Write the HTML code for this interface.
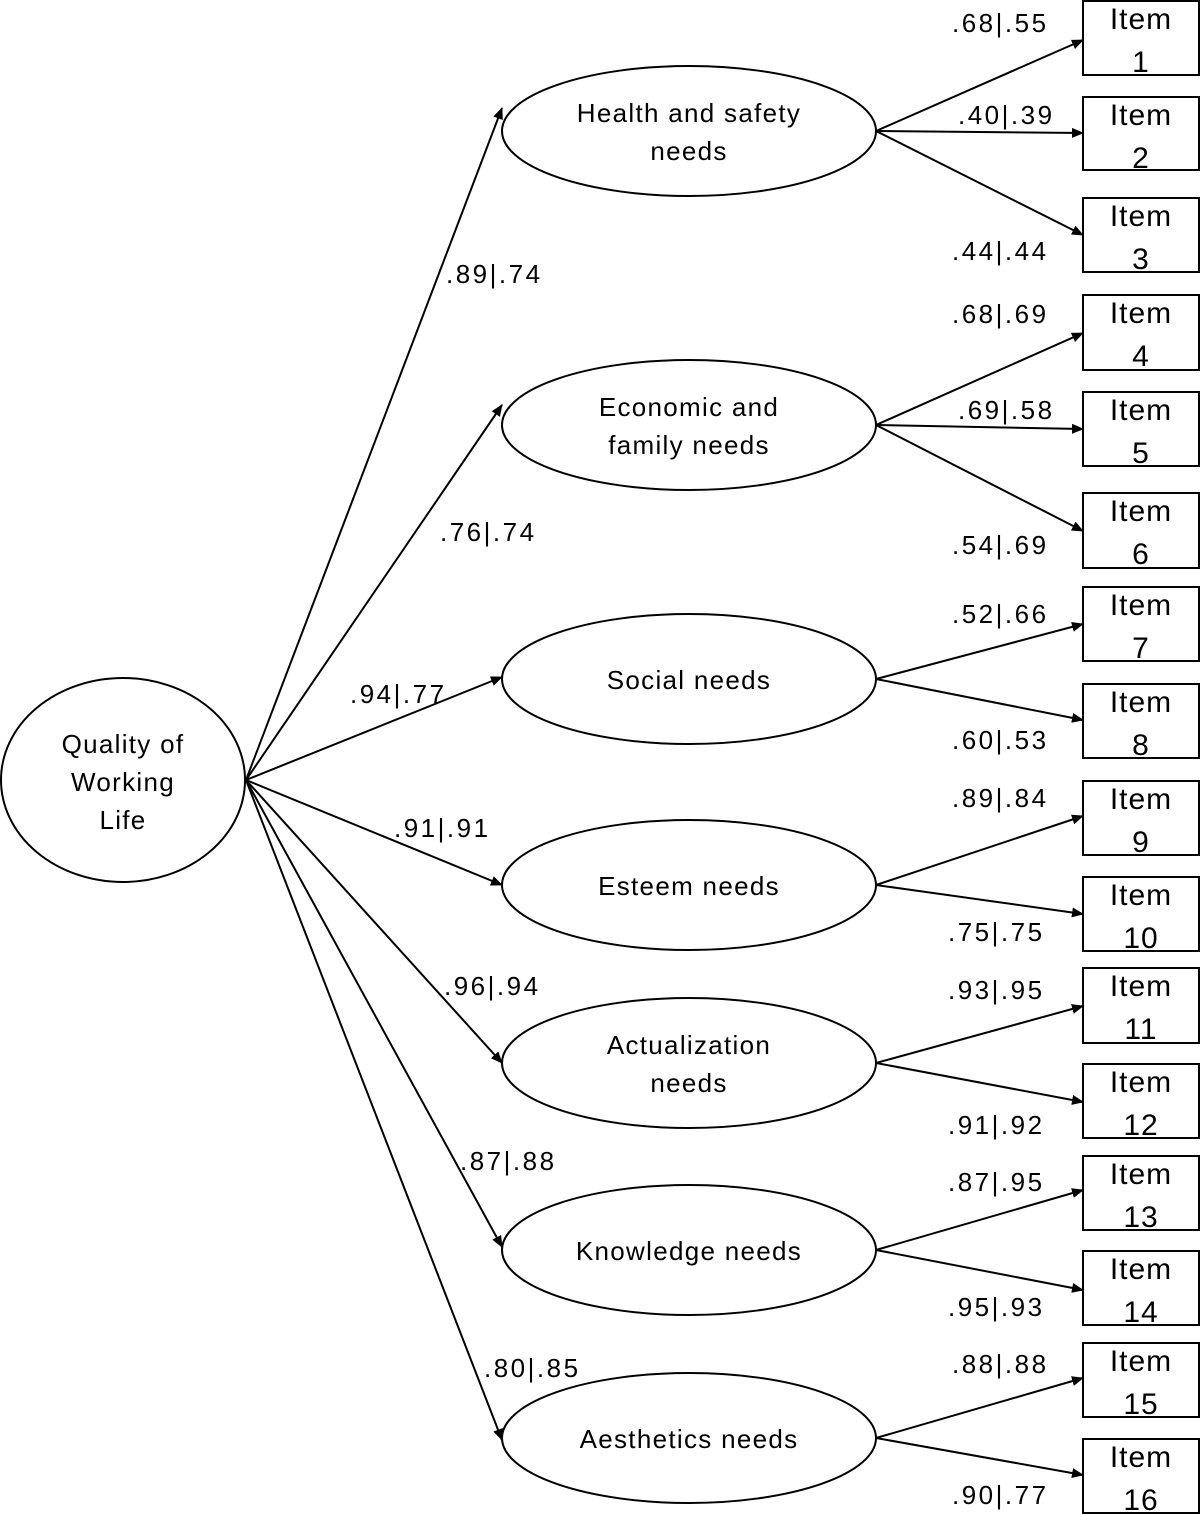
<!DOCTYPE html>
<html><head><meta charset="utf-8"><style>html,body{margin:0;padding:0;background:#fff}svg{display:block}text{font-family:"Liberation Sans",sans-serif;fill:#000}</style></head>
<body>
<svg width="1200" height="1514" viewBox="0 0 1200 1514" xmlns="http://www.w3.org/2000/svg">
<defs><marker id="a" markerWidth="12" markerHeight="10" refX="11" refY="5" orient="auto" markerUnits="userSpaceOnUse"><path d="M0,0 L12,5 L0,10 z" fill="#000"/></marker></defs>
<g stroke="#000" stroke-width="2" fill="none">
<ellipse cx="123" cy="780" rx="122" ry="102"/>
<ellipse cx="689" cy="131" rx="187" ry="65"/>
<ellipse cx="689" cy="425" rx="187" ry="65"/>
<ellipse cx="689" cy="679" rx="187" ry="65"/>
<ellipse cx="689" cy="885" rx="187" ry="65"/>
<ellipse cx="689" cy="1063" rx="187" ry="65"/>
<ellipse cx="689" cy="1250" rx="187" ry="65"/>
<ellipse cx="689" cy="1438" rx="187" ry="65"/>
<rect x="1083" y="1" width="116" height="74"/>
<rect x="1083" y="97" width="116" height="73"/>
<rect x="1083" y="198" width="116" height="74"/>
<rect x="1083" y="295" width="116" height="75"/>
<rect x="1083" y="392" width="116" height="74"/>
<rect x="1083" y="493" width="116" height="75"/>
<rect x="1083" y="587" width="116" height="74"/>
<rect x="1083" y="684" width="116" height="74"/>
<rect x="1083" y="781" width="116" height="74"/>
<rect x="1083" y="877" width="116" height="74"/>
<rect x="1083" y="968" width="116" height="75"/>
<rect x="1083" y="1064" width="116" height="74"/>
<rect x="1083" y="1156" width="116" height="74"/>
<rect x="1083" y="1251" width="116" height="74"/>
<rect x="1083" y="1343" width="116" height="74"/>
<rect x="1083" y="1439" width="116" height="74"/>
</g>
<g stroke="#000" stroke-width="2" marker-end="url(#a)">
<line x1="246" y1="780" x2="502" y2="108"/>
<line x1="246" y1="780" x2="502" y2="405"/>
<line x1="246" y1="780" x2="502" y2="677"/>
<line x1="246" y1="780" x2="502" y2="885"/>
<line x1="246" y1="780" x2="502" y2="1063"/>
<line x1="246" y1="780" x2="502" y2="1247"/>
<line x1="246" y1="780" x2="502" y2="1440"/>
<line x1="876" y1="131" x2="1083" y2="40"/>
<line x1="876" y1="131" x2="1083" y2="133"/>
<line x1="876" y1="131" x2="1083" y2="235"/>
<line x1="876" y1="425" x2="1083" y2="333"/>
<line x1="876" y1="425" x2="1083" y2="429"/>
<line x1="876" y1="425" x2="1083" y2="531"/>
<line x1="876" y1="679" x2="1083" y2="624"/>
<line x1="876" y1="679" x2="1083" y2="720"/>
<line x1="876" y1="885" x2="1083" y2="816"/>
<line x1="876" y1="885" x2="1083" y2="914"/>
<line x1="876" y1="1063" x2="1083" y2="1006"/>
<line x1="876" y1="1063" x2="1083" y2="1102"/>
<line x1="876" y1="1250" x2="1083" y2="1190"/>
<line x1="876" y1="1250" x2="1083" y2="1290"/>
<line x1="876" y1="1438" x2="1083" y2="1378"/>
<line x1="876" y1="1438" x2="1083" y2="1475"/>
</g>
<g font-size="26" text-anchor="middle" letter-spacing="1.3">
<text x="123" y="753">Quality of</text><text x="123" y="791">Working</text><text x="123" y="829">Life</text>
<text x="689" y="122">Health and safety</text><text x="689" y="160">needs</text>
<text x="689" y="416">Economic and</text><text x="689" y="454">family needs</text>
<text x="689" y="689">Social needs</text>
<text x="689" y="895">Esteem needs</text>
<text x="689" y="1054">Actualization</text><text x="689" y="1092">needs</text>
<text x="689" y="1260">Knowledge needs</text>
<text x="689" y="1448">Aesthetics needs</text>
</g>
<g font-size="30" text-anchor="middle" letter-spacing="1">
<text x="1141" y="29">Item</text><text x="1141" y="72">1</text>
<text x="1141" y="125">Item</text><text x="1141" y="168">2</text>
<text x="1141" y="226">Item</text><text x="1141" y="269">3</text>
<text x="1141" y="323">Item</text><text x="1141" y="366">4</text>
<text x="1141" y="420">Item</text><text x="1141" y="463">5</text>
<text x="1141" y="521">Item</text><text x="1141" y="564">6</text>
<text x="1141" y="615">Item</text><text x="1141" y="658">7</text>
<text x="1141" y="712">Item</text><text x="1141" y="755">8</text>
<text x="1141" y="809">Item</text><text x="1141" y="852">9</text>
<text x="1141" y="905">Item</text><text x="1141" y="948">10</text>
<text x="1141" y="996">Item</text><text x="1141" y="1039">11</text>
<text x="1141" y="1092">Item</text><text x="1141" y="1135">12</text>
<text x="1141" y="1184">Item</text><text x="1141" y="1227">13</text>
<text x="1141" y="1279">Item</text><text x="1141" y="1322">14</text>
<text x="1141" y="1371">Item</text><text x="1141" y="1414">15</text>
<text x="1141" y="1467">Item</text><text x="1141" y="1510">16</text>
</g>
<g font-size="26" letter-spacing="2.5">
<text x="446" y="283">.89|.74</text>
<text x="440" y="541">.76|.74</text>
<text x="350" y="703">.94|.77</text>
<text x="394" y="837">.91|.91</text>
<text x="444" y="995">.96|.94</text>
<text x="460" y="1170">.87|.88</text>
<text x="484" y="1377">.80|.85</text>
<text x="952" y="32">.68|.55</text>
<text x="958" y="124">.40|.39</text>
<text x="952" y="260">.44|.44</text>
<text x="952" y="323">.68|.69</text>
<text x="958" y="419">.69|.58</text>
<text x="952" y="554">.54|.69</text>
<text x="952" y="623">.52|.66</text>
<text x="952" y="749">.60|.53</text>
<text x="952" y="807">.89|.84</text>
<text x="948" y="941">.75|.75</text>
<text x="948" y="999">.93|.95</text>
<text x="948" y="1134">.91|.92</text>
<text x="948" y="1191">.87|.95</text>
<text x="948" y="1316">.95|.93</text>
<text x="952" y="1373">.88|.88</text>
<text x="952" y="1504">.90|.77</text>
</g>
</svg>
</body></html>
